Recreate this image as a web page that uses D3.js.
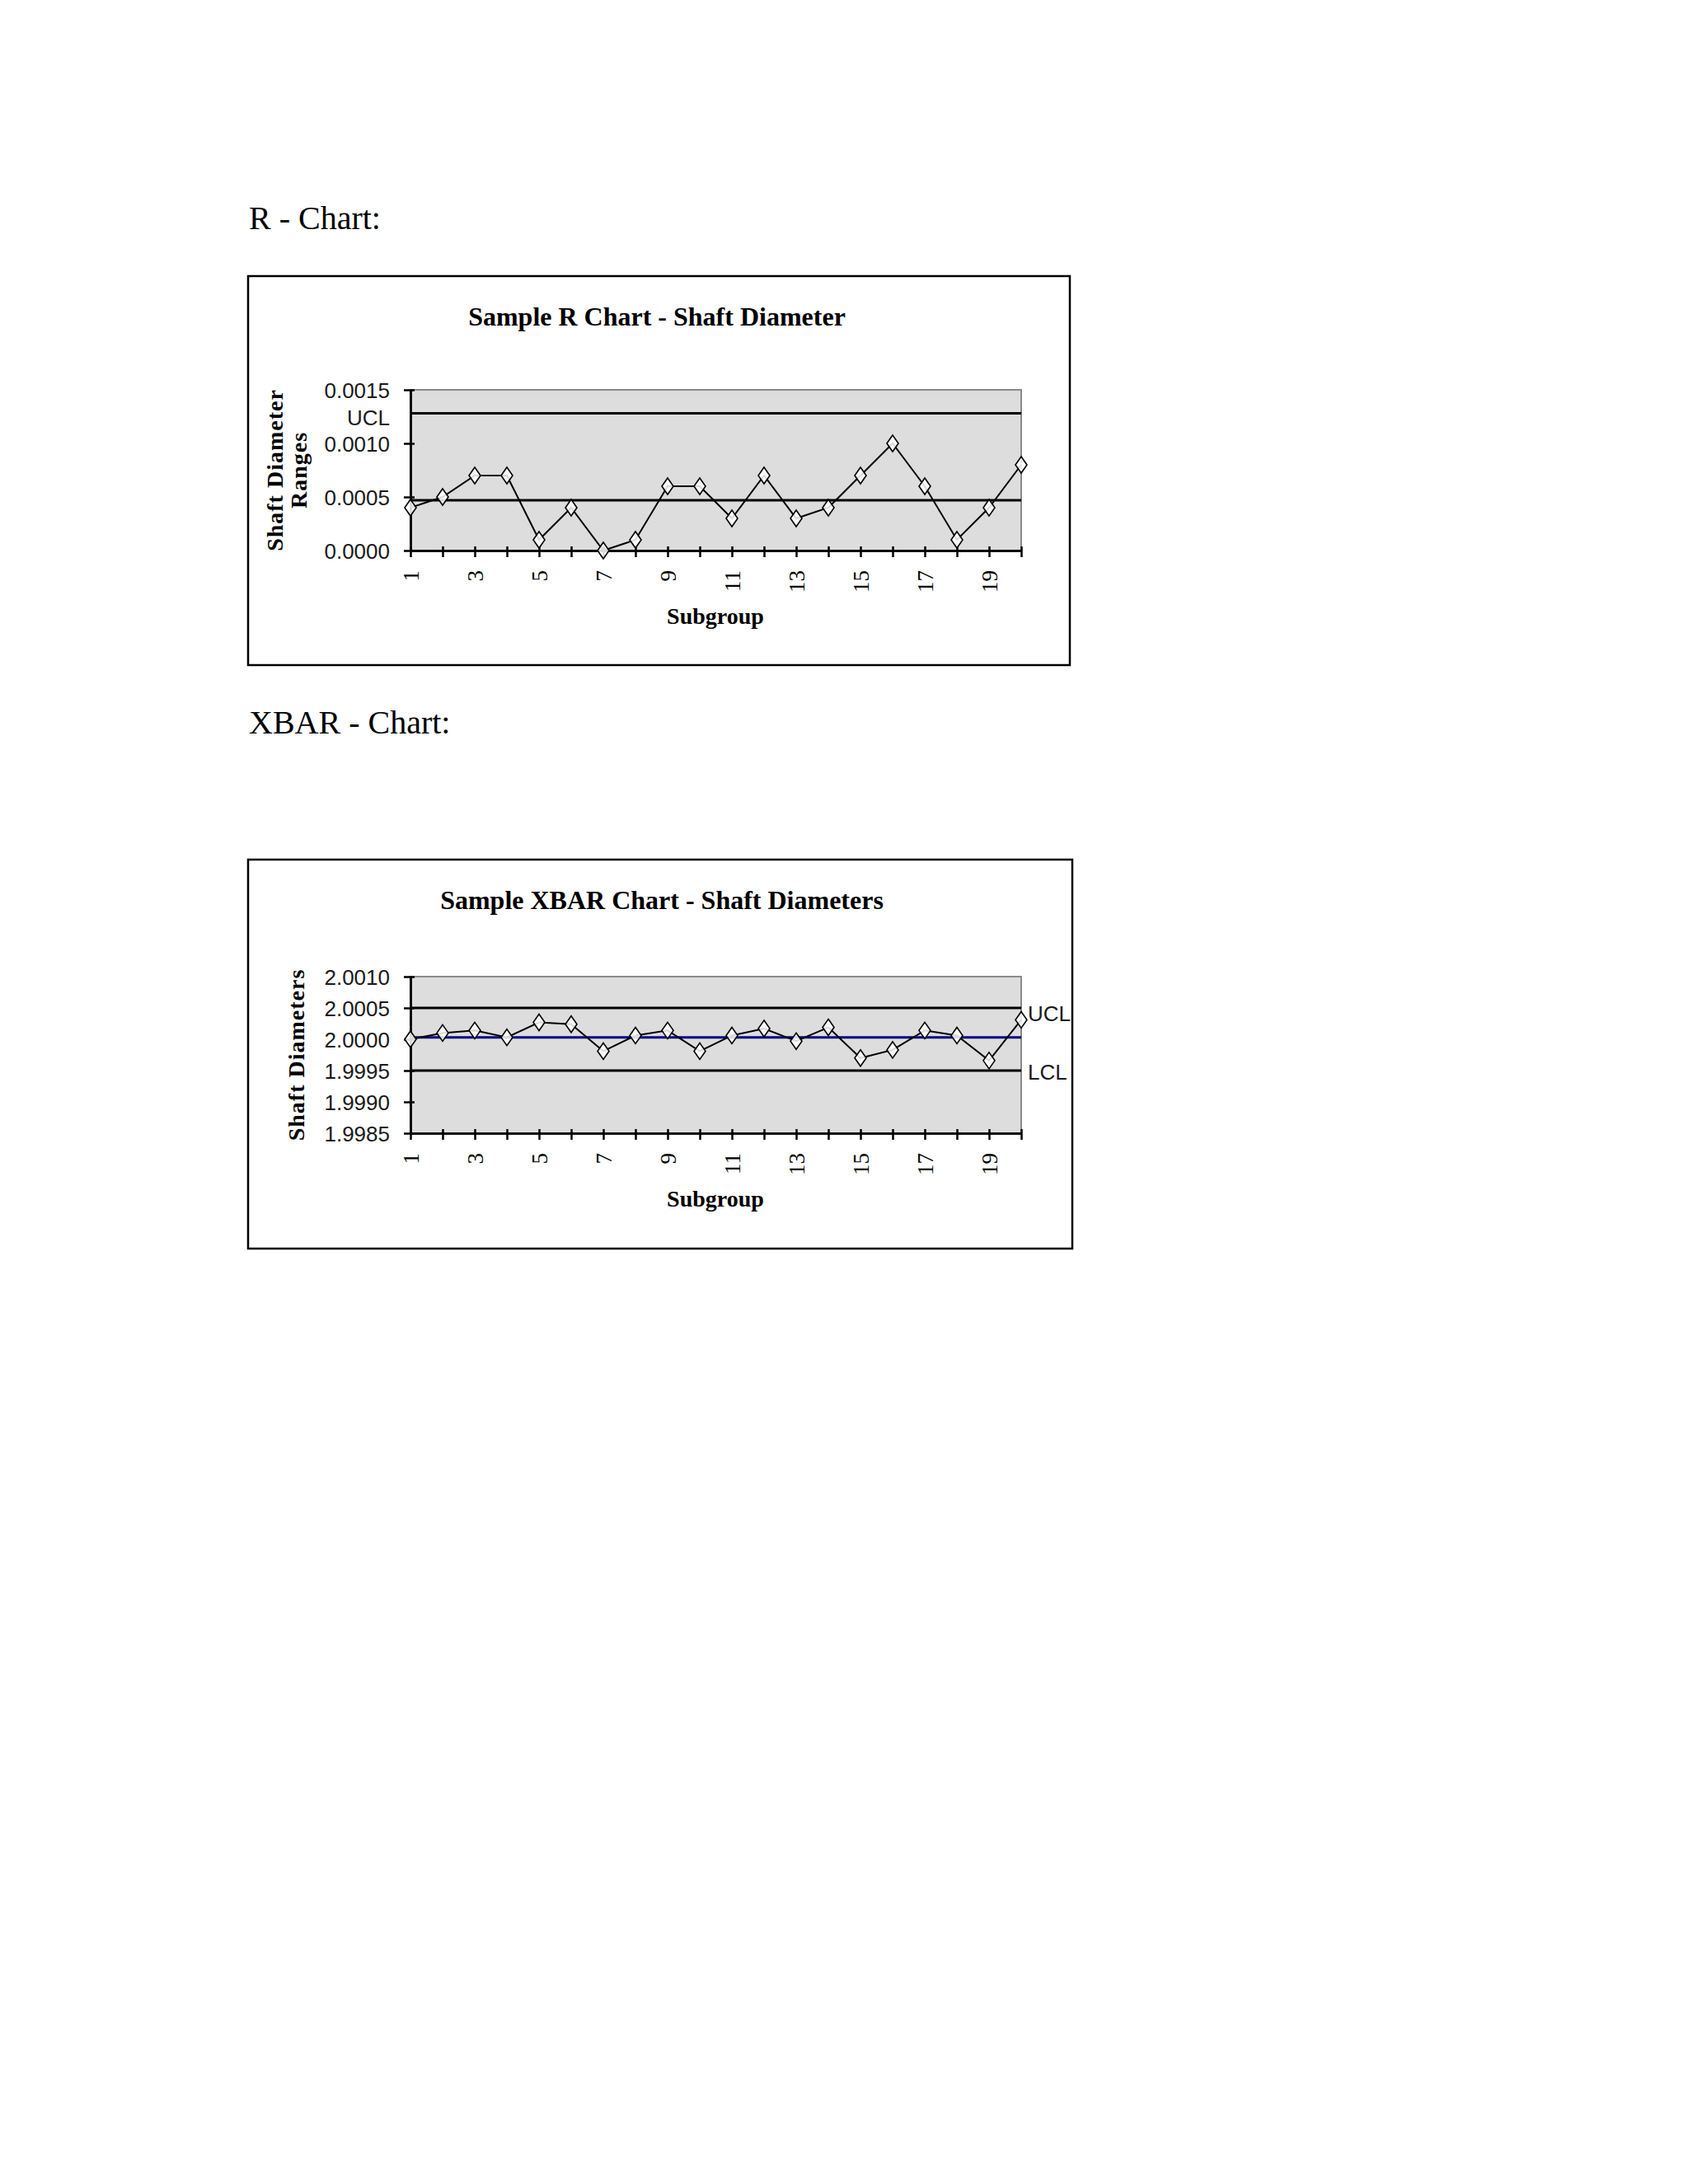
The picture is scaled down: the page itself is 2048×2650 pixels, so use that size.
<!DOCTYPE html>
<html>
<head>
<meta charset="utf-8">
<script src="https://cdn.jsdelivr.net/npm/d3@7"></script>
<style>
  html, body { margin: 0; padding: 0; background: #ffffff; }
  svg { display: block; }
</style>
</head>
<body>
<svg id="page" width="2048" height="2650"></svg>
<script>
// ---------------- DATA ----------------
const subgroups = [1,2,3,4,5,6,7,8,9,10,11,12,13,14,15,16,17,18,19,20];
const xTickLabels = [1,3,5,7,9,11,13,15,17,19];

const rangeValues = [0.0004,0.0005,0.0007,0.0007,0.0001,0.0004,0.0000,0.0001,0.0006,0.0006,
                     0.0003,0.0007,0.0003,0.0004,0.0007,0.0010,0.0006,0.0001,0.0004,0.0008];
const rCenter = 0.00047;
const rUCL = 0.00128;
const rTicks = [0.0000, 0.0005, 0.0010, 0.0015];

const xbarValues = [2.00000,2.00010,2.00014,2.00003,2.00027,2.00024,1.99981,2.00006,2.00014,1.99981,
                    2.00006,2.00017,1.99997,2.00019,1.99970,1.99983,2.00014,2.00006,1.99966,2.00031];
const xbarCenter = 2.00003;
const xbarUCL = 2.0005;
const xbarLCL = 1.9995;
const xbarTicks = [1.9985, 1.9990, 1.9995, 2.0000, 2.0005, 2.0010];

// ---------------- DRAWING ----------------
const svg = d3.select("#page");
const serif = "'Liberation Serif','Times New Roman',Times,serif";
const sans = "'Liberation Sans',Arial,Helvetica,sans-serif";

function heading(text, y) {
  svg.append("text").attr("x", 302).attr("y", y)
    .attr("font-family", serif).attr("font-size", 40).attr("fill", "#000")
    .text(text);
}

function chart(cfg) {
  const g = svg.append("g");
  // outer box
  g.append("rect").attr("x", cfg.box[0]).attr("y", cfg.box[1])
    .attr("width", cfg.box[2] - cfg.box[0]).attr("height", cfg.box[3] - cfg.box[1])
    .attr("fill", "#fff").attr("stroke", "#000").attr("stroke-width", 2.5);

  const x = d3.scaleLinear().domain([1, 20]).range([498, 1239]);
  const y = d3.scaleLinear().domain(cfg.domain).range([cfg.plotBottom, cfg.plotTop]);

  // title
  g.append("text").attr("x", cfg.titleX).attr("y", cfg.titleY)
    .attr("text-anchor", "middle").attr("font-family", serif)
    .attr("font-weight", "bold").attr("font-size", 32).text(cfg.title);

  // plot area
  g.append("rect").attr("x", x(1)).attr("y", y(cfg.domain[1]))
    .attr("width", x(20) - x(1)).attr("height", y(cfg.domain[0]) - y(cfg.domain[1]))
    .attr("fill", "#dddddd").attr("stroke", "#8a8a8a").attr("stroke-width", 2);

  // control lines
  cfg.lines.forEach(l => {
    g.append("line").attr("x1", x(1)).attr("x2", x(20))
      .attr("y1", y(l.v)).attr("y2", y(l.v))
      .attr("stroke", l.color).attr("stroke-width", 3);
  });

  // axes
  const yAxis = d3.axisLeft(y).tickValues(cfg.ticks).tickSizeInner(8).tickSizeOuter(0)
    .tickPadding(17).tickFormat(d3.format(cfg.fmt));
  const ya = g.append("g").attr("transform", `translate(${x(1)},0)`).call(yAxis);
  const yAxisIn = d3.axisRight(y).tickValues(cfg.ticks).tickSize(5).tickSizeOuter(0).tickFormat("");
  const yb = g.append("g").attr("transform", `translate(${x(1)},0)`).call(yAxisIn);

  const xAxis = d3.axisBottom(x).tickValues(subgroups).tickSizeInner(8).tickSizeOuter(0)
    .tickFormat(d => xTickLabels.includes(d) ? String(d) : "");
  const xa = g.append("g").attr("transform", `translate(0,${cfg.plotBottom})`).call(xAxis);
  const xAxisIn = d3.axisTop(x).tickValues(subgroups).tickSize(5).tickSizeOuter(0).tickFormat("");
  const xb = g.append("g").attr("transform", `translate(0,${cfg.plotBottom})`).call(xAxisIn);

  [ya, yb, xa, xb].forEach(a => {
    a.select(".domain").attr("stroke", "#000").attr("stroke-width", 2.5);
    a.selectAll(".tick line").attr("stroke", "#000").attr("stroke-width", 2.5);
  });
  ya.selectAll(".tick text").attr("font-family", sans).attr("font-size", 26)
    .attr("fill", "#1a1a1a").attr("dy", "0.36em");
  xa.selectAll(".tick text")
    .attr("font-family", serif).attr("font-size", 27).attr("fill", "#000")
    .attr("transform", "rotate(-90)").attr("text-anchor", "end")
    .attr("x", -24).attr("y", 0).attr("dy", "0.36em");

  // side labels (UCL / LCL)
  cfg.sideLabels.forEach(s => {
    g.append("text").attr("x", s.x).attr("y", y(s.v) + s.dy)
      .attr("text-anchor", s.anchor).attr("dy", "0.36em")
      .attr("font-family", sans).attr("font-size", 26).attr("fill", "#1a1a1a")
      .text(s.text);
  });

  // data line + markers
  const pts = subgroups.map((s, i) => [s, cfg.values[i]]);
  g.append("path").datum(pts)
    .attr("fill", "none").attr("stroke", "#000").attr("stroke-width", 2)
    .attr("d", d3.line().x(d => x(d[0])).y(d => y(d[1])));
  g.selectAll(null).data(pts).enter().append("path")
    .attr("transform", d => `translate(${x(d[0])},${y(d[1])})`)
    .attr("d", "M0,-10L7,0L0,10L-7,0Z")
    .attr("fill", "#ffffff").attr("fill-opacity", 0.85)
    .attr("stroke", "#000").attr("stroke-width", 1.6);

  // axis titles
  g.append("text").attr("x", 868).attr("y", cfg.plotBottom + 89)
    .attr("text-anchor", "middle").attr("font-family", serif)
    .attr("font-weight", "bold").attr("font-size", 28).text("Subgroup");

  const cy = (cfg.plotTop + cfg.plotBottom) / 2;
  cfg.yTitle.forEach(t => {
    g.append("text").attr("transform", `translate(${t.x},${cy}) rotate(-90)`)
      .attr("text-anchor", "middle").attr("font-family", serif)
      .attr("font-weight", "bold").attr("font-size", 28)
      .attr("letter-spacing", 1).text(t.text);
  });
}

heading("R - Chart:", 278);
chart({
  box: [301, 335, 1298, 807],
  plotTop: 473, plotBottom: 668,
  domain: [0, 0.0015],
  ticks: rTicks, fmt: ".4f",
  values: rangeValues,
  title: "Sample R Chart - Shaft Diameter", titleX: 797, titleY: 395,
  lines: [{v: rUCL, color: "#000"}, {v: rCenter, color: "#000"}],
  sideLabels: [{text: "UCL", v: rUCL, x: 473, dy: 5, anchor: "end"}],
  yTitle: [{text: "Shaft Diameter", x: 343}, {text: "Ranges", x: 372}]
});

heading("XBAR - Chart:", 890);
chart({
  box: [301, 1043, 1301, 1515],
  plotTop: 1185, plotBottom: 1375,
  domain: [1.9985, 2.0010],
  ticks: xbarTicks, fmt: ".4f",
  values: xbarValues,
  title: "Sample XBAR Chart - Shaft Diameters", titleX: 803, titleY: 1103,
  lines: [{v: xbarUCL, color: "#000"}, {v: xbarLCL, color: "#000"}, {v: xbarCenter, color: "#000080"}],
  sideLabels: [{text: "UCL", v: xbarUCL, x: 1247, dy: 7, anchor: "start"},
               {text: "LCL", v: xbarLCL, x: 1247, dy: 2, anchor: "start"}],
  yTitle: [{text: "Shaft Diameters", x: 369}]
});
</script>
</body>
</html>
